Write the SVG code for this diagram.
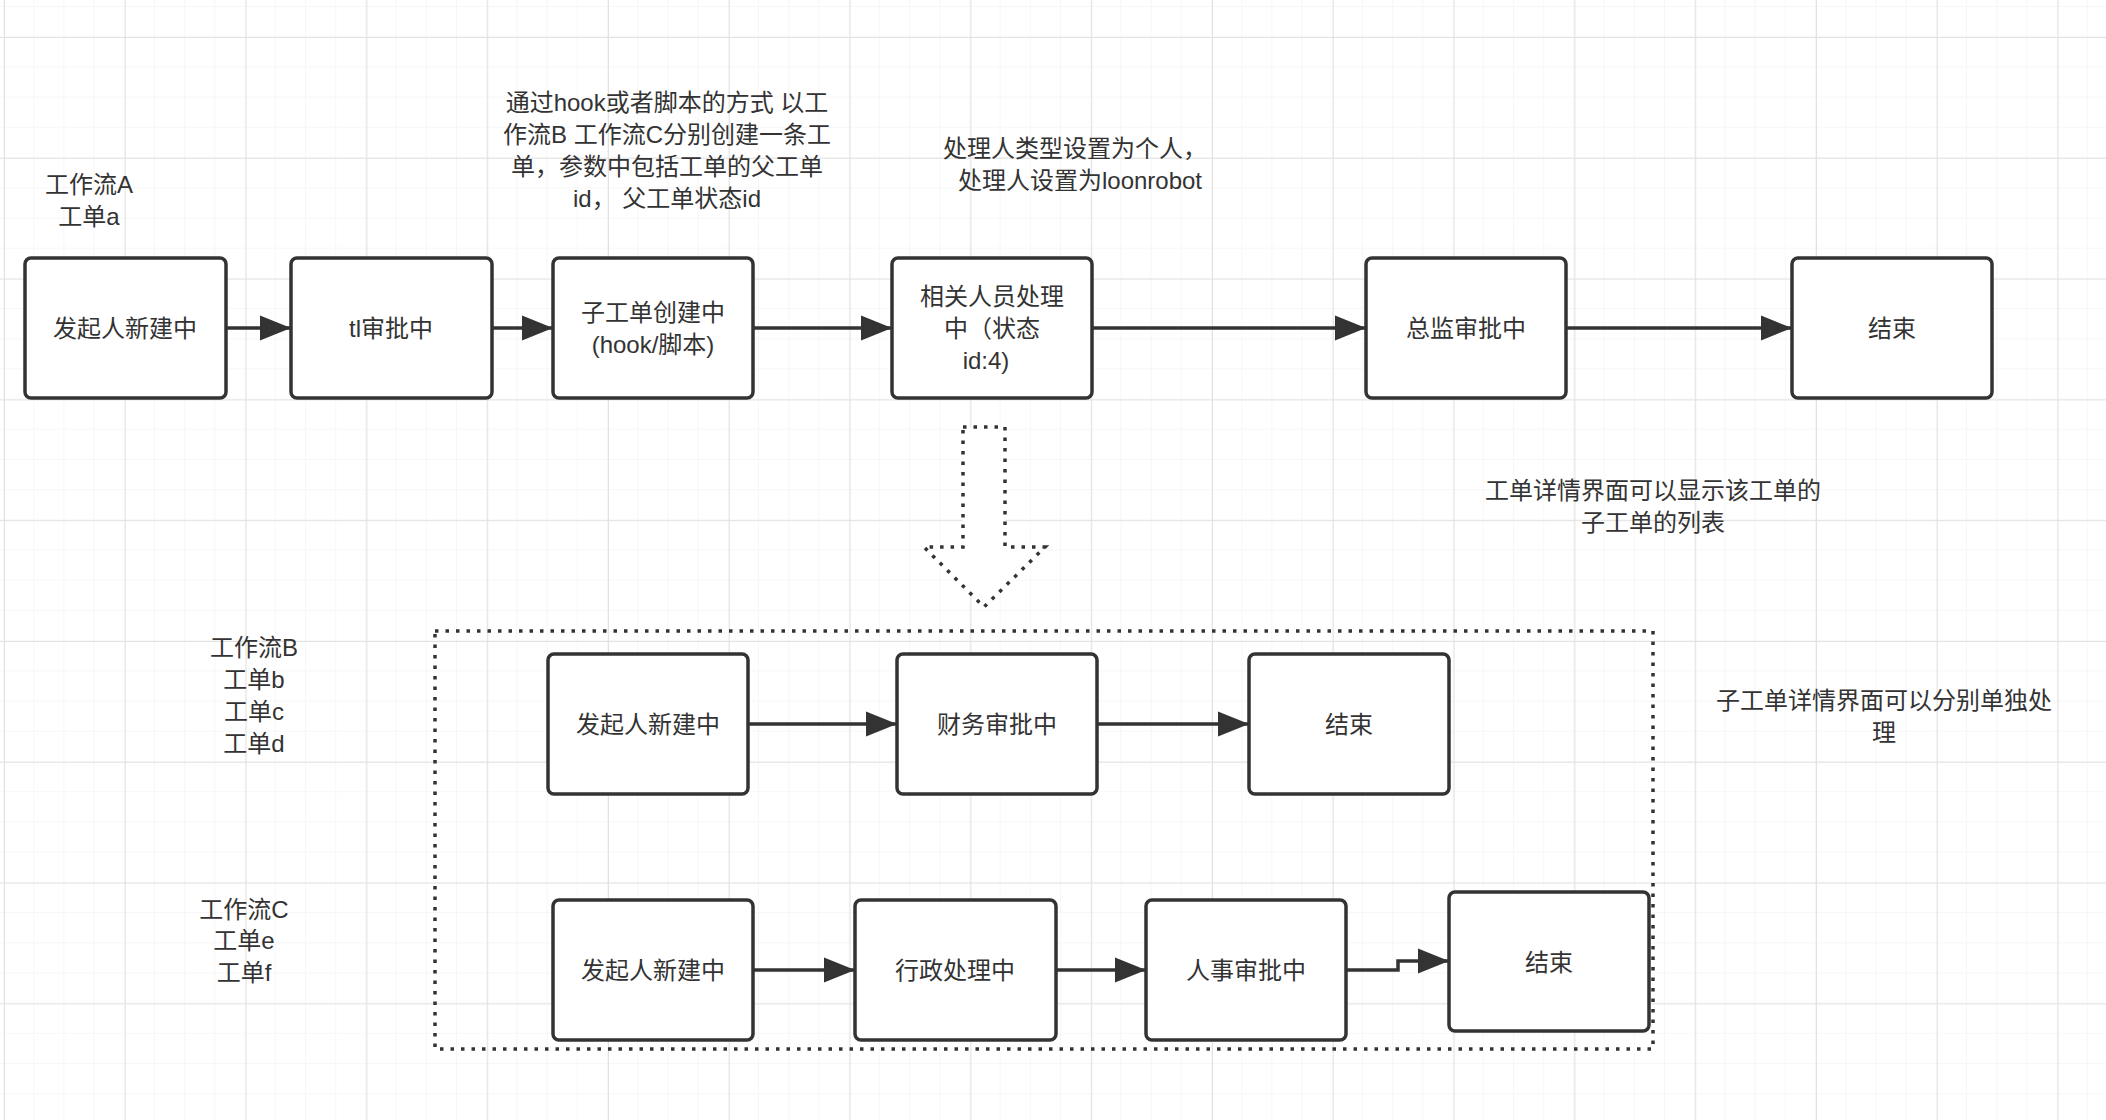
<svg xmlns="http://www.w3.org/2000/svg" width="2106" height="1120" viewBox="0 0 2106 1120">
<defs>
<pattern id="minor" x="4" y="7" width="30.2" height="30.2" patternUnits="userSpaceOnUse"><path d="M30.2 0V30.2M0 30.2H30.2" fill="none" stroke="#f0f0f0" stroke-width="1"/></pattern>
<pattern id="major" x="4" y="37" width="120.8" height="120.8" patternUnits="userSpaceOnUse"><path d="M0 0V120.8M0 0H120.8" fill="none" stroke="#e2e2e2" stroke-width="2"/></pattern>
<marker id="ah" viewBox="0 0 10 10" refX="10" refY="5" markerWidth="9" markerHeight="9" markerUnits="userSpaceOnUse" orient="auto"><path d="M0 0L10 5L0 10Z" fill="#333"/></marker>
<marker id="a" viewBox="0 0 10 10" refX="10" refY="5" markerWidth="9" markerHeight="9" orient="auto"><path d="M0 1L10 5L0 9Z" fill="#333"/></marker>
</defs>
<style>
.n{fill:#fff;stroke:#333;stroke-width:3.5}
.t{font-family:"Liberation Sans","Noto Sans CJK SC",sans-serif;font-size:24px;fill:#333;text-anchor:middle}
.c{fill:none;stroke:#333;stroke-width:3.5;marker-end:url(#a)}
</style>
<rect width="2106" height="1120" fill="#fff"/>
<rect width="2106" height="1120" fill="url(#minor)"/>
<rect width="2106" height="1120" fill="url(#major)"/>

<g id="labels" class="t">
<text x="89" y="193">工作流A</text><text x="89" y="225">工单a</text>
<text x="667" y="111">通过hook或者脚本的方式 以工</text>
<text x="667" y="143">作流B 工作流C分别创建一条工</text>
<text x="667" y="175">单，参数中包括工单的父工单</text>
<text x="667" y="207">id，  父工单状态id</text>
<text x="1075" y="157">处理人类型设置为个人，</text>
<text x="1080" y="189">处理人设置为loonrobot</text>
<text x="1653" y="499">工单详情界面可以显示该工单的</text>
<text x="1653" y="531">子工单的列表</text>
<text x="1884" y="709">子工单详情界面可以分别单独处</text>
<text x="1884" y="741">理</text>
<text x="254" y="656">工作流B</text><text x="254" y="688">工单b</text><text x="254" y="720">工单c</text><text x="254" y="752">工单d</text>
<text x="244" y="918">工作流C</text><text x="244" y="949">工单e</text><text x="244" y="981">工单f</text>
</g>

<g id="container"><rect x="435" y="631" width="1218" height="418" fill="none" stroke="#333" stroke-width="3.5" stroke-dasharray="3.5 7"/></g>
<g id="bigarrow"><path d="M963 427H1005V547H1045L984 607L924 547H963Z" fill="#fff" stroke="#333" stroke-width="3.5" stroke-dasharray="3.5 7"/></g>

<g id="connectors">
<path class="c" d="M226 328H291"/>
<path class="c" d="M492 328H553"/>
<path class="c" d="M753 328H892"/>
<path class="c" d="M1092 328H1366"/>
<path class="c" d="M1566 328H1792"/>
<path class="c" d="M748 724H897"/>
<path class="c" d="M1097 724H1249"/>
<path class="c" d="M753 970H855"/>
<path class="c" d="M1056 970H1146"/>
<path class="c" d="M1346 970H1398V961H1449"/>
</g>

<g id="a1"><rect class="n" x="25" y="258" width="201" height="140" rx="6"/><text class="t" x="125" y="337">发起人新建中</text></g>
<g id="a2"><rect class="n" x="291" y="258" width="201" height="140" rx="6"/><text class="t" x="391" y="337">tl审批中</text></g>
<g id="a3"><rect class="n" x="553" y="258" width="200" height="140" rx="6"/><text class="t" x="653" y="321">子工单创建中</text><text class="t" x="653" y="353">(hook/脚本)</text></g>
<g id="a4"><rect class="n" x="892" y="258" width="200" height="140" rx="6"/><text class="t" x="992" y="305">相关人员处理</text><text class="t" x="992" y="337">中（状态</text><text class="t" x="986" y="369">id:4)</text></g>
<g id="a5"><rect class="n" x="1366" y="258" width="200" height="140" rx="6"/><text class="t" x="1466" y="337">总监审批中</text></g>
<g id="a6"><rect class="n" x="1792" y="258" width="200" height="140" rx="6"/><text class="t" x="1892" y="337">结束</text></g>

<g id="b1"><rect class="n" x="548" y="654" width="200" height="140" rx="6"/><text class="t" x="648" y="733">发起人新建中</text></g>
<g id="b2"><rect class="n" x="897" y="654" width="200" height="140" rx="6"/><text class="t" x="997" y="733">财务审批中</text></g>
<g id="b3"><rect class="n" x="1249" y="654" width="200" height="140" rx="6"/><text class="t" x="1349" y="733">结束</text></g>

<g id="c1"><rect class="n" x="553" y="900" width="200" height="140" rx="6"/><text class="t" x="653" y="979">发起人新建中</text></g>
<g id="c2"><rect class="n" x="855" y="900" width="201" height="140" rx="6"/><text class="t" x="955" y="979">行政处理中</text></g>
<g id="c3"><rect class="n" x="1146" y="900" width="200" height="140" rx="6"/><text class="t" x="1246" y="979">人事审批中</text></g>
<g id="c4"><rect class="n" x="1449" y="892" width="200" height="139" rx="6"/><text class="t" x="1549" y="971">结束</text></g>
</svg>
